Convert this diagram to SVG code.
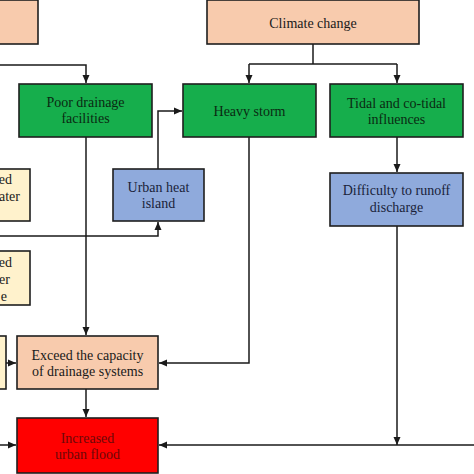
<svg xmlns="http://www.w3.org/2000/svg" width="474" height="474" viewBox="0 0 474 474">
<style>
.box{stroke:#1e1e1e;stroke-width:1.6}
.peach{fill:#F8CBAD}
.green{fill:#16AE4C}
.blue{fill:#8FAADC}
.yellow{fill:#FFF2CC}
.red{fill:#FF0000}
text{font-family:"Liberation Serif","Times New Roman",serif;font-size:14px;text-anchor:middle;dominant-baseline:central;fill:#1a1a1a}
.gt{fill:#0a2a12}
.bt{fill:#1a1f3a}
.rt{fill:#6e0808}
.conn path{fill:none;stroke:#1a1a1a;stroke-width:1.5}
</style>
<defs>
<marker id="ah" viewBox="0 0 8 8" refX="8" refY="4" markerWidth="8" markerHeight="8" markerUnits="userSpaceOnUse" orient="auto">
<path d="M0,0.5 L8,4 L0,7.5 z" fill="#1a1a1a"/>
</marker>
</defs>
<rect width="474" height="474" fill="#fff"/>

<g class="conn">
<path d="M0,65 H86 V83" marker-end="url(#ah)"/>
<path d="M313,44 V64"/>
<path d="M249,64 H397"/>
<path d="M249,64 V83" marker-end="url(#ah)"/>
<path d="M397,64 V83" marker-end="url(#ah)"/>
<path d="M158,169 V111 H182" marker-end="url(#ah)"/>
<path d="M0,236 H158 V222" marker-end="url(#ah)"/>
<path d="M86,137 V335" marker-end="url(#ah)"/>
<path d="M249,137 V363 H159" marker-end="url(#ah)"/>
<path d="M397,137 V172" marker-end="url(#ah)"/>
<path d="M397,226 V445" marker-end="url(#ah)"/>
<path d="M474,445 H159" marker-end="url(#ah)"/>
<path d="M0,445 H16" marker-end="url(#ah)"/>
<path d="M6,363 H16" marker-end="url(#ah)"/>
<path d="M86,389 V417" marker-end="url(#ah)"/>
</g>

<g id="node-topleft">
<rect class="box peach" x="-40" y="0" width="78" height="44"/>
</g>
<g id="node-climate">
<rect class="box peach" x="207" y="0" width="212" height="44"/>
<text x="313" y="23">Climate change</text>
</g>
<g id="node-poor-drainage">
<rect class="box green" x="19" y="84" width="133" height="53"/>
<text class="gt" x="85.5" y="102">Poor drainage</text>
<text class="gt" x="85.5" y="118">facilities</text>
</g>
<g id="node-heavy-storm">
<rect class="box green" x="183" y="84" width="133" height="53"/>
<text class="gt" x="249.5" y="111">Heavy storm</text>
</g>
<g id="node-tidal">
<rect class="box green" x="330" y="84" width="133" height="53"/>
<text class="gt" x="396.5" y="103">Tidal and co-tidal</text>
<text class="gt" x="396.5" y="119">influences</text>
</g>
<g id="node-yellow1">
<rect class="box yellow" x="-40" y="169" width="70" height="52"/>
<text x="12" y="179" style="text-anchor:end">ed</text>
<text x="20" y="196" style="text-anchor:end">ater</text>
</g>
<g id="node-urban-heat">
<rect class="box blue" x="113" y="169" width="91" height="52"/>
<text class="bt" x="158.5" y="187">Urban heat</text>
<text class="bt" x="158.5" y="203">island</text>
</g>
<g id="node-difficulty">
<rect class="box blue" x="330" y="173" width="133" height="53"/>
<text class="bt" x="396.5" y="190">Difficulty to runoff</text>
<text class="bt" x="396.5" y="207">discharge</text>
</g>
<g id="node-yellow2">
<rect class="box yellow" x="-40" y="251" width="70" height="54"/>
<text x="12" y="262" style="text-anchor:end">ed</text>
<text x="10" y="279" style="text-anchor:end">er</text>
<text x="7" y="296" style="text-anchor:end">e</text>
</g>
<g id="node-yellow3">
<rect class="box yellow" x="-40" y="336" width="46" height="53"/>
</g>
<g id="node-exceed">
<rect class="box peach" x="17" y="336" width="141" height="53"/>
<text x="87.5" y="355">Exceed the capacity</text>
<text x="87.5" y="371">of drainage systems</text>
</g>
<g id="node-flood">
<rect class="box red" x="17" y="418" width="141" height="55"/>
<text class="rt" x="87.5" y="438">Increased</text>
<text class="rt" x="87.5" y="454">urban flood</text>
</g>
</svg>
